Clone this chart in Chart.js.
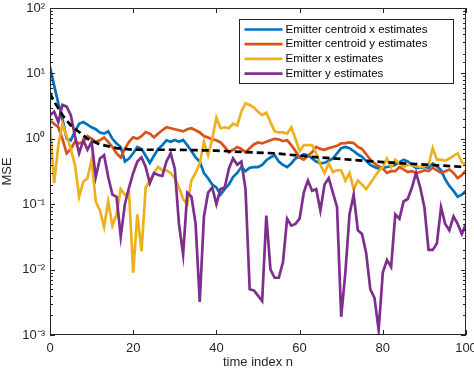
<!DOCTYPE html>
<html>
<head>
<meta charset="utf-8">
<script src="https://cdn.jsdelivr.net/npm/chart.js@4.4.0/dist/chart.umd.min.js"></script>
<style>
    html, body { margin: 0; padding: 0; background: #fff; }
</style>
</head>
<body>
<canvas id="canvas" width="474" height="372"></canvas>
<script>
const timeIndex = [0, 1, 2, 3, 4, 5, 6, 7, 8, 9, 10, 11, 12, 13, 14, 15, 16, 17, 18, 19,
    20, 21, 22, 23, 24, 25, 26, 27, 28, 29, 30, 31, 32, 33, 34, 35, 36, 37, 38, 39,
    40, 41, 42, 43, 44, 45, 46, 47, 48, 49, 50, 51, 52, 53, 54, 55, 56, 57, 58, 59,
    60, 61, 62, 63, 64, 65, 66, 67, 68, 69, 70, 71, 72, 73, 74, 75, 76, 77, 78, 79,
    80, 81, 82, 83, 84, 85, 86, 87, 88, 89, 90, 91, 92, 93, 94, 95, 96, 97, 98, 99, 100];

const centroidX = [12.5, 6.5, 3.5, 2.0, 1.0, 0.95, 1.3, 1.7, 1.8, 1.65,
    1.5, 1.4, 1.25, 1.2, 1.3, 1.0, 0.85, 0.75, 0.45, 0.5,
    0.6, 0.75, 0.7, 0.55, 0.43, 0.55, 0.7, 0.8, 0.95, 0.9,
    0.96, 0.9, 0.96, 0.8, 0.65, 0.52, 0.45, 0.3, 0.25, 0.2,
    0.18, 0.14, 0.17, 0.2, 0.26, 0.3, 0.37, 0.32, 0.36, 0.37,
    0.37, 0.4, 0.47, 0.52, 0.56, 0.45, 0.4, 0.37, 0.42, 0.5,
    0.53, 0.58, 0.56, 0.5, 0.45, 0.42, 0.43, 0.46, 0.5, 0.6,
    0.72, 0.75, 0.72, 0.65, 0.58, 0.53, 0.46, 0.4, 0.37, 0.35,
    0.36, 0.37, 0.38, 0.4, 0.44, 0.48, 0.45, 0.4, 0.36, 0.36,
    0.37, 0.36, 0.42, 0.38, 0.33, 0.24, 0.19, 0.16, 0.13, 0.14, 0.16];

const centroidY = [1.9, 1.7, 1.5, 1.0, 0.6, 0.7, 0.9, 0.85, 0.9, 1.1,
    1.0, 0.9, 0.95, 1.05, 0.9, 0.75, 0.6, 0.52, 0.7, 0.9,
    1.05, 1.0, 1.1, 1.27, 1.2, 1.05, 1.2, 1.35, 1.5, 1.45,
    1.4, 1.35, 1.3, 1.4, 1.45, 1.35, 1.25, 1.1, 1.05, 0.98,
    0.95, 0.88, 0.75, 0.62, 0.68, 0.75, 0.7, 0.62, 0.72, 0.82,
    0.88, 0.85, 0.9, 0.95, 1.0, 0.98, 0.92, 0.95, 0.8, 0.65,
    0.52, 0.48, 0.55, 0.62, 0.75, 0.7, 0.68, 0.72, 0.75, 0.78,
    0.85, 0.86, 0.88, 0.86, 0.75, 0.7, 0.58, 0.48, 0.42, 0.38,
    0.35, 0.3, 0.32, 0.32, 0.37, 0.34, 0.31, 0.32, 0.3, 0.31,
    0.33, 0.32, 0.36, 0.33, 0.3, 0.32, 0.34, 0.3, 0.25, 0.28, 0.33];

const emitterX = [1.6, 0.21, 0.8, 1.7, 1.1, 0.7, 0.4, 0.13, 0.22, 0.25,
    0.48, 0.11, 0.08, 0.045, 0.11, 0.047, 0.07, 0.17, 0.14, 0.15,
    0.009, 0.07, 0.019, 0.18, 0.23, 0.3, 0.37, 0.33, 0.33, 0.3,
    0.25, 0.18, 0.12, 0.1, 0.23, 0.3, 0.42, 0.9, 0.56, 1.0,
    2.1, 1.45, 1.5, 1.45, 1.7, 1.6, 2.6, 3.5, 3.3, 3.0,
    2.6, 2.3, 2.5, 1.8, 1.3, 1.25, 1.25, 1.2, 1.5, 1.0,
    0.65, 0.8, 0.8, 0.8, 0.6, 0.4, 0.3, 0.42, 0.31, 0.33,
    0.33, 0.23, 0.3, 0.17, 0.23, 0.2, 0.17, 0.21, 0.26, 0.32,
    0.37, 0.5, 0.37, 0.48, 0.42, 0.37, 0.4, 0.4, 0.38, 0.37,
    0.38, 0.4, 0.72, 0.48, 0.48, 0.46, 0.5, 0.55, 0.6, 0.44, 0.4];

const emitterY = [2.3, 2.6, 1.8, 3.3, 3.1, 2.3, 1.1, 0.6, 0.95, 0.68,
    0.9, 0.26, 0.5, 0.56, 0.26, 0.14, 0.13, 0.032, 0.1, 0.18,
    0.3, 0.45, 0.52, 0.37, 0.21, 0.3, 0.28, 0.27, 0.45, 0.6,
    0.35, 0.05, 0.017, 0.15, 0.13, 0.05, 0.0032, 0.065, 0.15, 0.18,
    0.1, 0.17, 0.18, 0.35, 0.5, 0.4, 0.45, 0.17, 0.005, 0.0048,
    0.004, 0.0033, 0.067, 0.01, 0.0075, 0.0075, 0.013, 0.06, 0.047, 0.05,
    0.06, 0.15, 0.23, 0.16, 0.17, 0.08, 0.2, 0.25, 0.15, 0.09,
    0.0019, 0.009, 0.07, 0.14, 0.04, 0.035, 0.018, 0.005, 0.0037, 0.0012,
    0.009, 0.014, 0.011, 0.07, 0.06, 0.11, 0.12, 0.18, 0.3, 0.18,
    0.09, 0.02, 0.02, 0.025, 0.09, 0.05, 0.04, 0.065, 0.05, 0.035, 0.05];

// dashed reference curve, read at a few points
const meanN = [0, 1, 3, 5, 7, 9, 12, 16, 20, 30, 40, 46, 54, 63, 72, 80, 88, 100];
const meanMSE = [5.0, 3.7, 2.3, 1.6, 1.27, 1.0, 0.82, 0.72, 0.68, 0.68, 0.66, 0.63, 0.6, 0.53, 0.48, 0.44, 0.41, 0.37];

const seriesNames = ['Emitter centroid x estimates', 'Emitter centroid y estimates', 'Emitter x estimates', 'Emitter y estimates'];
const seriesColors = ['#0072BD', '#D95319', '#EDB120', '#7E2F8E'];

const xTickValues = [0, 20, 40, 60, 80, 100];
const yTickValues = [0.001, 0.01, 0.1, 1, 10, 100];
const yTickLabels = ['10⁻³', '10⁻²', '10⁻¹', '10⁰', '10¹', '10²'];

const axisColor = '#262626';

function toPoints(xs, ys) {
    return xs.map((x, i) => ({ x: x, y: ys[i] }));
}

function findMajor(value) {
    return yTickValues.findIndex(v => Math.abs(v - value) / v < 1e-6);
}

const axesBox = {
    id: 'axesBox',
    afterDraw(chart) {
        const { ctx, chartArea: a, scales: { x, y } } = chart;
        ctx.save();
        ctx.strokeStyle = axisColor;
        ctx.lineWidth = 1;
        ctx.strokeRect(a.left + 0.5, a.top + 0.5, a.right - a.left - 1, a.bottom - a.top - 1);

        ctx.beginPath();
        xTickValues.forEach(v => {
            const px = Math.round(x.getPixelForValue(v)) + 0.5;
            ctx.moveTo(px, a.bottom); ctx.lineTo(px, a.bottom - 5);
            ctx.moveTo(px, a.top); ctx.lineTo(px, a.top + 5);
        });
        y.ticks.forEach(t => {
            const len = findMajor(t.value) >= 0 ? 5 : 3;
            const py = Math.round(y.getPixelForValue(t.value)) + 0.5;
            ctx.moveTo(a.left, py); ctx.lineTo(a.left + len, py);
            ctx.moveTo(a.right, py); ctx.lineTo(a.right - len, py);
        });
        ctx.stroke();

        // legend box, top right inside the axes
        const boxW = 214, boxH = 64;
        const bx = Math.round(a.right - 13 - boxW) + 0.5;
        const by = Math.round(a.top + 11) + 0.5;
        ctx.fillStyle = '#fff';
        ctx.fillRect(bx, by, boxW, boxH);
        ctx.strokeRect(bx, by, boxW, boxH);

        ctx.font = '11.5px "Liberation Sans", Arial, sans-serif';
        ctx.textBaseline = 'middle';
        ctx.textAlign = 'left';
        seriesNames.forEach((name, i) => {
            const rowY = by + 10 + i * 14.7;
            ctx.strokeStyle = seriesColors[i];
            ctx.lineWidth = 2.7;
            ctx.beginPath();
            ctx.moveTo(bx + 5, rowY);
            ctx.lineTo(bx + 43, rowY);
            ctx.stroke();
            ctx.fillStyle = '#000';
            ctx.fillText(name, bx + 46, rowY);
        });
        ctx.restore();
    }
};

Chart.defaults.font.family = '"Liberation Sans", Arial, sans-serif';
Chart.defaults.font.size = 13;
Chart.defaults.color = axisColor;

const series = [centroidX, centroidY, emitterX, emitterY];
const datasets = series.map((values, i) => ({
    label: seriesNames[i],
    data: toPoints(timeIndex, values),
    borderColor: seriesColors[i],
    borderWidth: 2.7,
    pointRadius: 0,
    tension: 0,
    order: 5 - i
}));
datasets.push({
    label: 'mean',
    data: toPoints(meanN, meanMSE),
    borderColor: '#000',
    borderWidth: 2.7,
    borderDash: [7, 4],
    pointRadius: 0,
    tension: 0,
    order: 0
});

const config = {
    type: 'line',
    data: { datasets: datasets },
    options: {
        responsive: false,
        animation: false,
        layout: { padding: { left: 0, right: 8, top: 8, bottom: 0 } },
        plugins: {
            legend: { display: false },
            tooltip: { enabled: false }
        },
        scales: {
            x: {
                type: 'linear',
                min: 0,
                max: 100,
                grid: { display: false, drawTicks: false },
                border: { display: false },
                ticks: {
                    autoSkip: false,
                    maxRotation: 0,
                    padding: 6,
                    stepSize: 20,
                    color: axisColor
                },
                title: {
                    display: true,
                    text: 'time index n',
                    color: axisColor,
                    font: { size: 13 },
                    padding: { top: 0, bottom: 2 }
                },
                afterFit(scale) {
                    scale.height = 37;
                    scale.paddingLeft = 0;
                    scale.paddingRight = 0;
                }
            },
            y: {
                type: 'logarithmic',
                min: 0.001,
                max: 100,
                grid: { display: false, drawTicks: false },
                border: { display: false },
                ticks: {
                    autoSkip: false,
                    padding: 5,
                    color: axisColor,
                    callback: function(value) {
                        const idx = findMajor(value);
                        return idx >= 0 ? yTickLabels[idx] : '';
                    }
                },
                title: {
                    display: true,
                    text: 'MSE',
                    color: axisColor,
                    font: { size: 13 },
                    padding: { top: 0, bottom: 2 }
                },
                afterFit(scale) {
                    scale.width = 50;
                    scale.paddingTop = 0;
                    scale.paddingBottom = 0;
                }
            }
        }
    },
    plugins: [axesBox]
};

new Chart(document.getElementById('canvas'), config);
</script>
</body>
</html>
